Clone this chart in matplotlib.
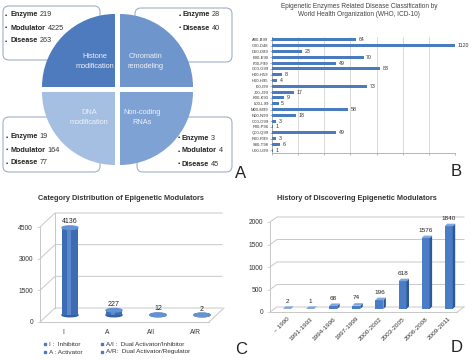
import numpy as np
import matplotlib.pyplot as plt
from matplotlib.patches import Wedge, FancyBboxPatch, Ellipse, Polygon, Rectangle

plt.rcParams['font.family'] = ['Liberation Sans', 'DejaVu Sans']

W, H = 474, 360

# panel A
groups = ['Histone\nmodification', 'Chromatin\nremodeling', 'DNA\nmodification', 'Non-coding\nRNAs']
enzymes = [219, 28, 19, 3]
modulators = [4225, None, 164, 4]
diseases = [263, 40, 77, 45]

# panel B
icd_codes = ['A00-B99', 'C00-D48', 'D50-D89', 'E00-E90', 'F00-F99', 'G00-G99', 'H00-H59',
             'H60-H95', 'I00-I99', 'J00-J99', 'K00-K93', 'L00-L99', 'M00-M99', 'N00-N99',
             'O00-O99', 'P00-P96', 'Q00-Q99', 'R00-R99', 'S00-T98', 'U00-U99']
icd_counts = [64, 1120, 23, 70, 49, 83, 8, 4, 73, 17, 9, 5, 58, 18, 3, 1, 49, 3, 6, 1]

# panel C
mod_cats = ['I', 'A', 'A/I', 'A/R']
mod_counts = [4136, 227, 12, 2]
mod_legend = ['I :  Inhibitor', 'A : Activator', 'A/I :  Dual Activator/Inhibitor',
              'A/R:  Dual Activator/Regulator']

# panel D
periods = ['~ 1990', '1991-1993', '1994-1996', '1997-1999', '2000-2002', '2003-2005',
           '2006-2008', '2009-2011']
period_counts = [2, 1, 68, 74, 196, 618, 1576, 1840]

fig = plt.figure(figsize=(4.74, 3.6), dpi=100)


def px_axes(x0, y0, x1, y1):
    return fig.add_axes([x0 / W, 1 - y1 / H, (x1 - x0) / W, (y1 - y0) / H])


grid_c = '#c8c8c8'
blue = '#4a7bbf'

# ---------------- B ----------------
axb = px_axes(272, 37, 455, 153)
axb.set_facecolor('none')
yb = np.arange(len(icd_codes))
axb.barh(yb, icd_counts, height=0.5, color=blue, zorder=3)
axb.set_xlim(0, 140)
axb.set_ylim(len(icd_codes) - 0.5, -0.5)
axb.set_xticks(range(0, 141, 20))
axb.set_xticklabels([])
axb.set_yticks(yb)
axb.set_yticklabels(icd_codes, fontsize=3, color='#333333')
axb.tick_params(length=1.5, width=0.5, colors='#999999', labelcolor='#333333', pad=1)
axb.grid(axis='x', color='#d4d4d4', lw=0.6)
for s in ['top', 'right']:
    axb.spines[s].set_visible(False)
for s in ['left', 'bottom']:
    axb.spines[s].set_color('#a8a8a8')
    axb.spines[s].set_linewidth(0.6)
for yy, v in zip(yb, icd_counts):
    axb.text(min(v, 140) + 2, yy, str(v), fontsize=3.8, va='center', color='#333333', clip_on=False)

# ---------------- C ----------------
axc = px_axes(40, 205, 230, 322)
axc.set_facecolor('none')
kc = 4500 / 95.0
axc.set_ylim(0, 117 * kc)
xmin_c = -23 / 44.0
axc.set_xlim(xmin_c, (190 - 23) / 44.0)
dxc, dyc = 15 / 44.0, 14 * kc
xend_c = (222 - 40 - 23) / 44.0
for lv in [0, 1500, 3000, 4500]:
    axc.plot([xmin_c, xmin_c + dxc, xend_c], [lv, lv + dyc, lv + dyc], color=grid_c, lw=0.7, clip_on=False)
xfloor = (209 - 63) / 44.0
axc.plot([xfloor, xfloor + dxc], [0, dyc], color=grid_c, lw=0.7)
axc.plot([xmin_c + dxc, xmin_c + dxc], [dyc, 4500 + dyc], color=grid_c, lw=0.7)
axc.set_yticks([0, 1500, 3000, 4500])
axc.set_xticks(range(len(mod_cats)))
axc.set_xticklabels(mod_cats)
axc.tick_params(axis='y', labelsize=4.8, length=2, width=0.5, colors=grid_c, labelcolor='#333333', pad=3)
axc.tick_params(axis='x', labelsize=4.8, length=0, labelcolor='#333333', pad=5)
for s in ['top', 'right']:
    axc.spines[s].set_visible(False)
axc.spines['left'].set_bounds(0, 4500)
axc.spines['bottom'].set_bounds(xmin_c, xfloor)
for s in ['left', 'bottom']:
    axc.spines[s].set_color(grid_c)
    axc.spines[s].set_linewidth(0.7)
wc = 16 / 44.0
eh = 3.5 * kc
basec = 7 * kc
for i, v in enumerate(mod_counts):
    xc = i + 7 / 44.0
    axc.add_patch(Ellipse((xc, basec), wc, eh, color='#34609f', zorder=3))
    axc.add_patch(Rectangle((xc - wc / 2, basec), wc, v, color='#3d6cb3', lw=0, zorder=3))
    axc.add_patch(Rectangle((xc - wc / 5, basec), wc / 4, v, color='#5a88cb', lw=0, zorder=3))
    axc.add_patch(Ellipse((xc, basec + v), wc, eh, color='#6592d2', zorder=4))
    axc.text(xc, basec + v + eh / 2 + 30, str(v), fontsize=5, ha='center', va='bottom', color='#222222')

# ---------------- D ----------------
axd = px_axes(270, 200, 465, 312)
axd.set_facecolor('none')
kd = 2000 / 90.0
axd.set_ylim(0, 112 * kd)
xmin_d = -17 / 23.1
axd.set_xlim(xmin_d, (195 - 17) / 23.1)
dxd, dyd = 7 / 23.1, 5 * kd
xend_d = (464 - 287) / 23.1
for lv in [0, 500, 1000, 1500, 2000]:
    axd.plot([xmin_d, xmin_d + dxd, xend_d], [lv, lv + dyd, lv + dyd], color=grid_c, lw=0.7, clip_on=False)
xfloor_d = (457 - 287) / 23.1
axd.plot([xfloor_d, xfloor_d + dxd], [0, dyd], color=grid_c, lw=0.7)
axd.set_yticks([0, 500, 1000, 1500, 2000])
xd = np.arange(len(periods))
axd.set_xticks(xd)
axd.set_xticklabels(periods, rotation=45, ha='right', rotation_mode='anchor')
axd.tick_params(axis='y', labelsize=4.8, length=2, width=0.5, colors=grid_c, labelcolor='#333333', pad=3)
axd.tick_params(axis='x', labelsize=4.6, length=0, labelcolor='#333333', pad=3)
for s in ['top', 'right']:
    axd.spines[s].set_visible(False)
axd.spines['left'].set_bounds(0, 2000)
axd.spines['bottom'].set_bounds(xmin_d, xfloor_d)
for s in ['left', 'bottom']:
    axd.spines[s].set_color(grid_c)
    axd.spines[s].set_linewidth(0.7)
wd = 8 / 23.1
based = 3 * kd
sdx, sdy = 2.5 / 23.1, 2.5 * kd
axd.bar(xd, period_counts, width=wd, bottom=based, color='#4a7dc6', zorder=3)
for x, v in zip(xd, period_counts):
    top = based + v
    axd.add_patch(Polygon([(x + wd / 2, based), (x + wd / 2 + sdx, based + sdy),
                           (x + wd / 2 + sdx, top + sdy), (x + wd / 2, top)],
                          color='#2f5897', lw=0, zorder=3))
    axd.add_patch(Polygon([(x - wd / 2, top), (x - wd / 2 + sdx, top + sdy),
                           (x + wd / 2 + sdx, top + sdy), (x + wd / 2, top)],
                          color='#7ea6dd', lw=0, zorder=3))
    axd.text(x, top + sdy + 60, str(v), fontsize=4.6, ha='center', va='bottom', color='#222222')

# ---------------- overlay: A, titles, legend, letters ----------------
ov = px_axes(0, 0, W, H)
ov.set_xlim(0, W)
ov.set_ylim(H, 0)
ov.axis('off')

boxes = [(3, 6, 97, 54), (135, 8, 97, 54), (3, 117, 97, 55), (137, 117, 95, 55)]
for bx, by, bw, bh in boxes:
    ov.add_patch(FancyBboxPatch((bx, by), bw, bh, boxstyle='round,pad=0,rounding_size=6',
                                fc='white', ec='#9fb0c8', lw=0.8))

cx, cy, r, g = 117.5, 89.5, 73, 2.5
quad = [((cx - g, cy - g), 180, 270, '#4d7bbd'),
        ((cx + g, cy - g), 270, 360, '#6e95cc'),
        ((cx - g, cy + g), 90, 180, '#a5bfe2'),
        ((cx + g, cy + g), 0, 90, '#7fa2d5')]
for c, t1, t2, col in quad:
    ov.add_patch(Wedge(c, r, t1, t2, fc=col, ec='none', zorder=2))

label_pos = [(95, 62), (146, 62), (89, 117), (142, 117)]
for (lx, ly), name in zip(label_pos, groups):
    ov.text(lx, ly, name, fontsize=5.3, color='#eef2f9', ha='center', va='center',
            linespacing=1.6, zorder=3)

text_x = [11, 183, 11, 182]
bullet_x = [5, 179, 6, 178]
text_y0 = [15, 15, 137, 138]
for i in range(4):
    rows = [('Enzyme', enzymes[i]), ('Modulator', modulators[i]), ('Disease', diseases[i])]
    rows = [rw for rw in rows if rw[1] is not None]
    for j, (name, val) in enumerate(rows):
        yy = text_y0[i] + j * 13
        ov.text(bullet_x[i], yy, '\u2022', fontsize=4.5, va='center', color='#222222', zorder=3)
        t = ov.text(text_x[i], yy, name, fontsize=5.2, fontweight='bold', va='center',
                    color='#222222', zorder=3)
        ov.annotate(str(val), xy=(1, 0.5), xycoords=t, xytext=(1, 0), textcoords='offset points',
                    fontsize=5.2, va='center', color='#333333', zorder=3)

ov.text(359, 7, 'Epigenetic Enzymes Related Disease Classification by', fontsize=4.7,
        ha='center', va='center', color='#444444')
ov.text(359, 14, 'World Health Organization (WHO, ICD-10)', fontsize=4.7,
        ha='center', va='center', color='#444444')
ov.text(121, 199, 'Category Distribution of Epigenetic Modulators', fontsize=5.3,
        fontweight='bold', ha='center', va='center', color='#333333')
ov.text(357, 199, 'History of Discovering Epigenetic Modulators', fontsize=5.3,
        fontweight='bold', ha='center', va='center', color='#333333')

leg_xy = [(45, 344), (45, 352), (102, 344), (102, 352)]
for (lx, ly), lab in zip(leg_xy, mod_legend):
    ov.plot(lx, ly, 's', ms=2, color=blue)
    ov.text(lx + 4, ly, lab, fontsize=4.6, va='center', color='#333333')

for lx, ly, lt in [(241, 174, 'A'), (456, 172, 'B'), (241, 350, 'C'), (457, 347, 'D')]:
    ov.text(lx, ly, lt, fontsize=12, ha='center', va='center', color='#222222')

fig.savefig('out.png', dpi=100)
